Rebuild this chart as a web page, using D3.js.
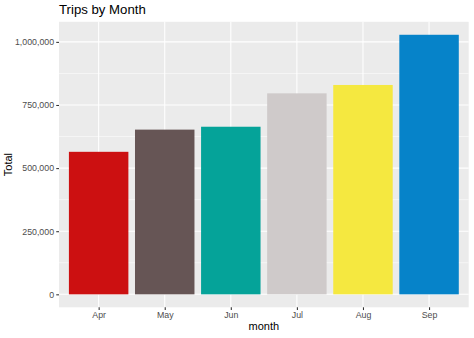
<!DOCTYPE html>
<html>
<head>
<meta charset="utf-8">
<script src="https://cdn.jsdelivr.net/npm/d3@7"></script>
<style>
  body { margin: 0; background: #fff; }
  svg text { font-family: "Liberation Sans", Arial, sans-serif; }
</style>
</head>
<body>
<div id="chart"></div>
<script>
var months = ["Apr", "May", "Jun", "Jul", "Aug", "Sep"];
var totals = [564516, 652435, 663844, 796121, 829275, 1028136];
var bar_colours = ["#CC1011", "#665555", "#05A399", "#CFCACA", "#F5E840", "#0683C9"];
var y_ticks = [0, 250000, 500000, 750000, 1000000];
var y_minor = [125000, 375000, 625000, 875000];

var width = 474;
var height = 338;
var padding = {top: 21.8, bottom: 30.7, left: 59, right: 5.3};

var data = months.map(function(m, i){ return {month: m, total: totals[i], colour: bar_colours[i]}; });

var svg = d3.select("#chart")
    .append("svg")
    .attr("width", width)
    .attr("height", height);

var plot_w = width - padding.left - padding.right;
var plot_h = height - padding.top - padding.bottom;

// discrete axis with ggplot's 0.6 expansion
var step = plot_w / (months.length - 1 + 1.2);
var x_scale = d3.scalePoint()
    .domain(months)
    .range([padding.left + 0.6 * step, width - padding.right - 0.6 * step]);
var bar_w = step * 0.9;

var y_max = d3.max(totals);
var y_scale = d3.scaleLinear()
    .domain([-0.05 * y_max, 1.05 * y_max])
    .range([height - padding.bottom, padding.top]);

svg.append("rect")
    .attr("x", padding.left)
    .attr("y", padding.top)
    .attr("width", plot_w)
    .attr("height", plot_h)
    .attr("fill", "#EBEBEB");

var grid = svg.append("g");
grid.selectAll("line.minor")
    .data(y_minor)
    .enter().append("line")
    .attr("x1", padding.left).attr("x2", width - padding.right)
    .attr("y1", function(d){ return y_scale(d); })
    .attr("y2", function(d){ return y_scale(d); })
    .attr("stroke", "#fff").attr("stroke-width", 0.53);
grid.selectAll("line.majory")
    .data(y_ticks)
    .enter().append("line")
    .attr("x1", padding.left).attr("x2", width - padding.right)
    .attr("y1", function(d){ return y_scale(d); })
    .attr("y2", function(d){ return y_scale(d); })
    .attr("stroke", "#fff").attr("stroke-width", 1.07);
grid.selectAll("line.majorx")
    .data(months)
    .enter().append("line")
    .attr("y1", padding.top).attr("y2", height - padding.bottom)
    .attr("x1", function(d){ return x_scale(d); })
    .attr("x2", function(d){ return x_scale(d); })
    .attr("stroke", "#fff").attr("stroke-width", 1.07);

svg.selectAll("rect.bar")
    .data(data)
    .enter().append("rect")
    .attr("class", "bar")
    .attr("x", function(d){ return x_scale(d.month) - bar_w / 2; })
    .attr("width", bar_w)
    .attr("y", function(d){ return y_scale(d.total); })
    .attr("height", function(d){ return y_scale(0) - y_scale(d.total); })
    .attr("fill", function(d){ return d.colour; });

var y_axis = d3.axisLeft(y_scale)
    .tickValues(y_ticks)
    .tickSize(2.75)
    .tickPadding(2.2)
    .tickFormat(d3.format(",d"));

var x_axis = d3.axisBottom(x_scale)
    .tickSize(2.75)
    .tickPadding(2.2);

var gy = svg.append("g")
    .attr("transform", "translate(" + padding.left + ",0)")
    .call(y_axis);
var gx = svg.append("g")
    .attr("transform", "translate(0," + (height - padding.bottom) + ")")
    .call(x_axis);

[gy, gx].forEach(function(g){
    g.select(".domain").remove();
    g.selectAll(".tick line").attr("stroke", "#333333").attr("stroke-width", 1.07);
    g.selectAll(".tick text").attr("fill", "#4D4D4D").attr("font-size", "8.8px");
});

svg.append("text")
    .attr("x", padding.left)
    .attr("y", 14.2)
    .attr("font-size", "13.2px")
    .attr("fill", "#000")
    .text("Trips by Month");

svg.append("text")
    .attr("x", padding.left + plot_w / 2)
    .attr("y", 330)
    .attr("text-anchor", "middle")
    .attr("font-size", "11px")
    .attr("fill", "#000")
    .text("month");

svg.append("text")
    .attr("transform", "translate(12," + (padding.top + plot_h / 2) + ") rotate(-90)")
    .attr("text-anchor", "middle")
    .attr("font-size", "11px")
    .attr("fill", "#000")
    .text("Total");
</script>
</body>
</html>
